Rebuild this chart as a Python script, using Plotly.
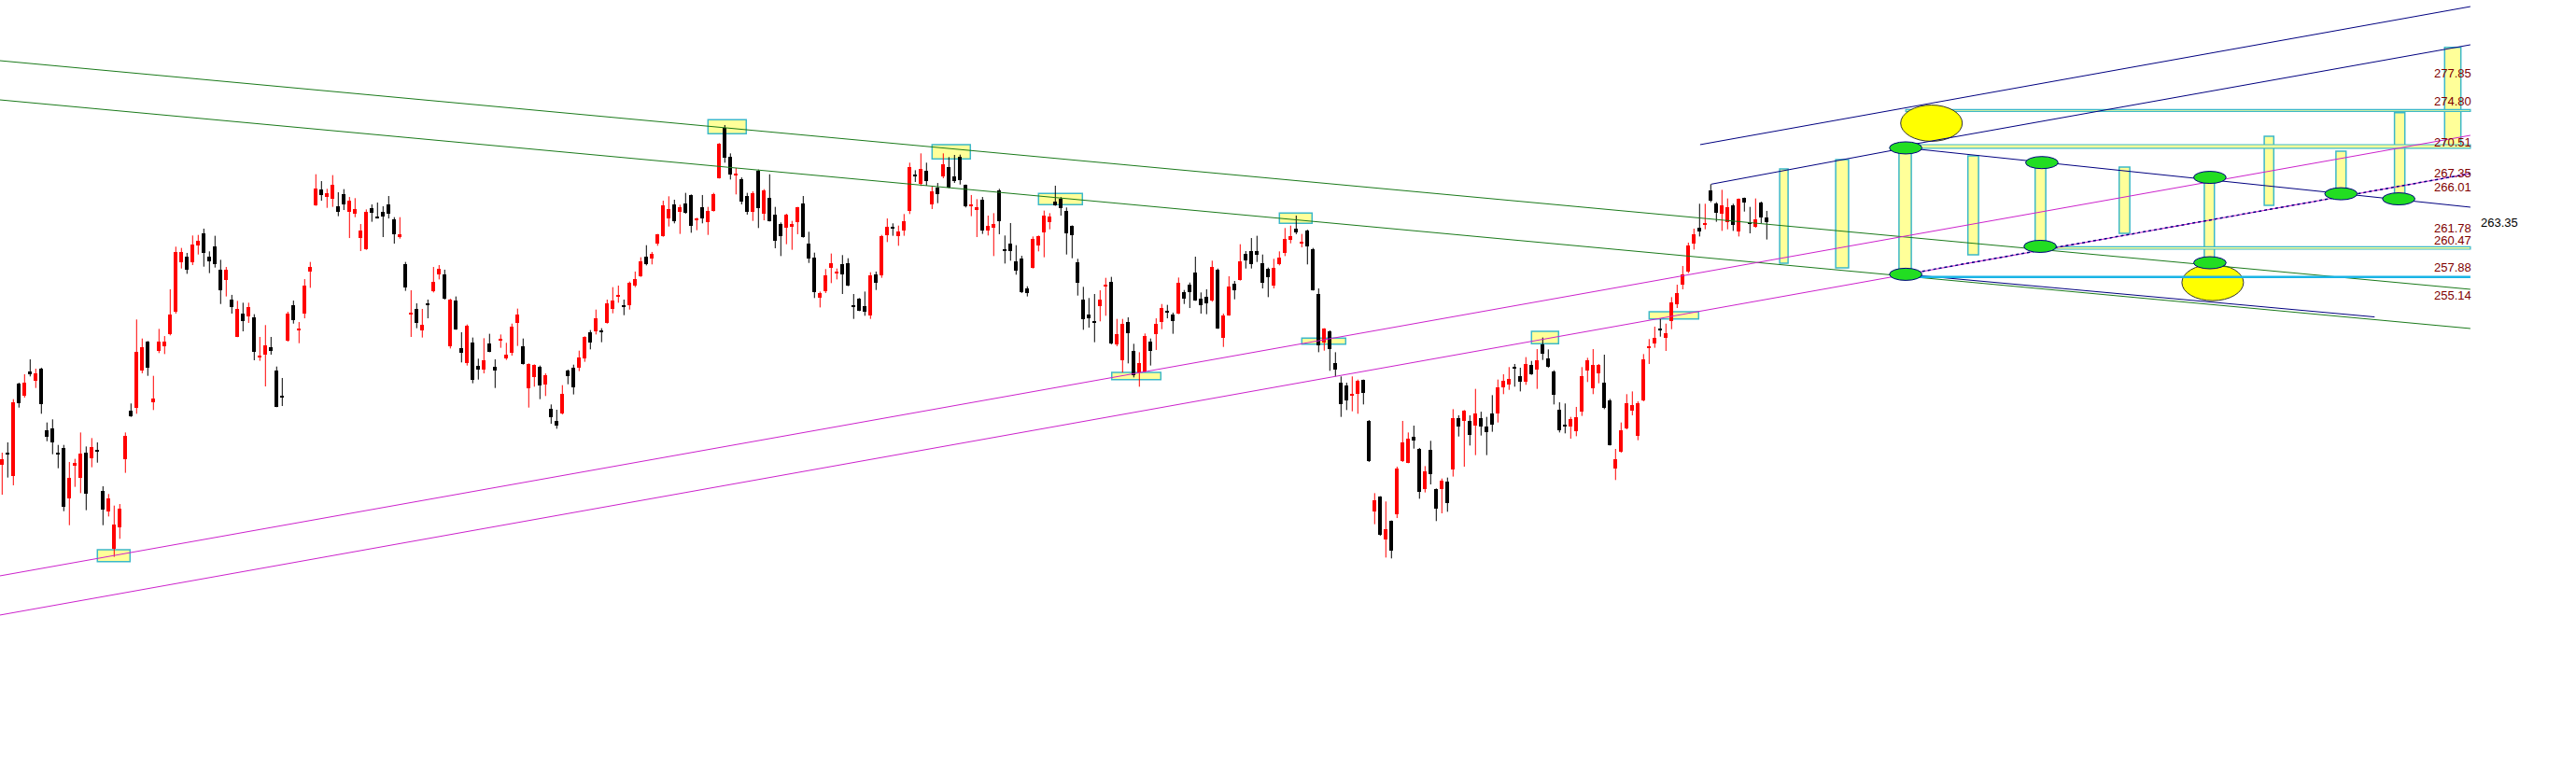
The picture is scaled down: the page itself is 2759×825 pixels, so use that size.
import plotly.graph_objects as go

# ---------------- candle data (index = trading day) ----------------
opens = [238.54,239.81,237.43,246.86,245.62,248.06,247.18,248.38,242.10,242.25,239.81,240.29,235.11,238.44,237.27,239.81,239.27,240.10,235.91,233.84,
229.97,232.19,239.18,244.10,244.41,248.22,251.14,244.98,250.19,250.70,251.87,254.16,259.24,259.81,259.27,260.98,262.19,259.81,260.86,258.48,
257.43,255.43,251.65,254.03,253.71,253.62,249.49,249.81,250.60,248.22,245.59,251.24,254.89,252.38,254.03,258.32,265.08,266.63,265.94,265.75,
264.95,266.16,264.35,264.16,261.71,260.60,264.73,263.90,264.35,265.14,263.62,261.84,259.08,253.97,254.48,252.32,255.02,256.32,258.03,258.00,
250.67,255.30,250.44,248.95,251.05,248.70,248.32,250.98,248.60,251.30,249.43,250.03,253.08,250.67,246.41,247.49,248.60,246.73,244.25,243.05,
243.84,248.22,248.48,248.44,249.40,252.13,252.19,252.25,253.08,254.51,255.68,254.89,254.82,256.89,257.81,259.81,259.65,261.14,261.94,263.68,
265.14,264.35,265.27,266.10,263.56,264.83,263.37,264.51,267.84,272.98,270.03,268.16,267.75,266.00,264.41,268.54,264.16,265.78,264.10,263.14,
262.73,262.83,263.30,265.21,261.14,259.71,255.59,256.32,258.70,258.06,259.05,259.17,254.86,255.52,254.79,253.78,257.97,257.90,262.03,262.83,
261.87,262.51,264.51,268.13,267.27,268.54,265.14,266.86,268.00,268.95,268.00,270.03,267.11,264.98,264.57,265.59,262.51,262.76,266.57,260.57,
261.14,259.33,259.59,256.54,258.70,260.92,262.29,263.37,265.43,265.75,264.48,262.95,259.27,255.43,253.94,253.24,254.79,256.79,257.21,250.83,
249.27,253.14,250.22,248.00,248.13,251.17,251.87,253.14,254.32,253.94,254.00,256.16,256.95,258.16,255.52,255.68,255.37,258.51,251.56,253.84,
257.02,257.43,260.13,260.38,260.38,259.11,258.60,256.86,259.08,260.22,261.56,262.67,261.17,262.51,260.60,256.00,251.08,252.22,248.95,246.95,
246.63,245.71,245.78,247.21,243.05,233.84,235.30,230.98,232.83,233.52,238.95,238.79,241.46,240.19,236.06,240.06,236.06,236.06,236.86,238.06,
243.37,243.05,243.05,242.57,243.30,242.51,243.78,243.78,246.48,246.79,248.54,247.59,247.08,248.76,248.32,250.83,249.40,248.06,244.16,242.64,
242.51,242.03,244.03,248.16,246.41,247.90,246.95,245.11,238.19,239.94,242.25,244.13,241.49,245.14,250.48,250.98,252.48,251.56,253.24,254.95,
256.95,258.29,261.17,262.76,263.14,266.57,265.24,264.19,263.30,265.05,262.35,265.81,263.37,262.89,265.30,263.84]
highs = [239.81,240.86,245.27,246.95,247.81,249.33,248.38,248.48,242.89,243.21,240.60,240.60,238.86,239.18,241.87,240.44,241.30,240.86,236.38,235.59,
234.41,234.57,241.87,244.83,253.40,251.46,251.20,247.65,252.44,251.71,256.48,260.83,260.70,260.19,261.97,262.03,262.67,260.35,261.94,259.49,
258.76,255.91,255.30,255.11,255.11,253.94,251.62,252.83,251.62,248.60,247.43,254.19,255.33,253.14,257.52,259.27,268.22,267.52,266.73,268.13,
266.38,266.70,265.90,265.78,263.14,264.63,265.14,265.33,264.95,266.00,263.84,263.84,259.27,256.38,255.05,254.48,255.43,258.76,258.95,258.48,
255.52,255.75,252.10,252.89,251.56,249.40,251.49,251.94,249.33,251.87,251.02,252.98,254.51,251.46,248.92,248.82,248.70,247.90,244.73,244.19,
246.70,248.29,248.79,250.22,251.68,252.32,254.41,252.51,255.43,256.70,256.86,255.43,257.27,258.29,259.75,260.98,260.29,262.13,265.52,265.97,
265.62,265.11,266.32,266.16,263.78,266.10,264.89,266.32,271.40,273.24,270.35,268.86,267.90,266.32,266.48,268.70,266.70,268.22,264.89,263.30,
264.19,263.46,264.89,266.00,262.35,260.22,256.25,258.54,260.13,258.60,259.97,259.65,256.00,255.59,256.25,258.22,258.29,262.03,263.71,263.21,
262.98,264.16,269.40,268.63,270.35,269.40,266.95,267.33,270.35,269.97,270.19,270.22,267.17,266.10,265.68,265.90,264.00,264.25,266.73,261.97,
263.24,260.98,259.90,256.79,261.87,261.97,264.51,264.25,267.05,265.90,264.83,263.00,259.59,256.73,255.59,256.00,256.38,257.65,257.75,253.46,
253.46,253.62,250.92,250.06,251.97,251.46,253.52,254.98,254.89,254.10,257.68,256.41,257.17,259.81,256.16,256.48,259.40,258.60,254.00,257.81,
257.33,261.08,260.38,261.71,261.94,260.03,258.70,259.59,260.35,262.73,262.98,264.00,262.13,262.57,260.70,256.57,252.51,252.29,250.06,247.59,
246.95,247.59,247.27,247.27,243.14,235.68,235.37,234.83,232.89,238.38,243.05,241.87,242.57,240.29,238.44,241.02,236.16,237.17,237.27,244.25,
243.62,244.16,243.62,246.32,243.99,243.46,245.68,247.27,247.81,248.54,248.86,248.48,249.56,249.17,250.38,251.56,250.35,248.22,244.95,244.83,
243.46,244.48,248.54,249.49,250.38,248.86,249.81,245.30,240.19,242.89,245.78,246.06,245.05,249.87,251.40,252.67,253.46,252.98,255.68,256.95,
258.86,261.24,262.67,265.21,265.21,267.21,265.37,266.63,265.75,265.21,265.75,265.84,264.89,265.75,265.43,264.48]
lows = [235.52,237.27,236.48,244.41,245.43,247.59,246.41,243.78,240.98,239.65,238.22,233.84,232.41,236.32,235.68,233.94,238.32,238.79,232.41,233.30,
229.18,231.02,237.75,243.46,243.78,247.91,247.65,244.16,249.97,249.87,251.78,254.00,258.60,258.06,258.95,260.03,258.79,258.13,258.70,254.98,
255.75,254.00,251.60,252.19,253.05,249.24,249.18,246.57,249.81,244.45,244.57,251.14,252.98,250.98,253.52,256.63,265.00,265.52,264.79,264.89,
263.94,264.57,261.71,263.84,260.38,260.50,263.37,263.70,261.81,263.71,261.14,261.65,256.32,251.62,252.51,251.56,253.52,256.16,257.49,255.43,
250.44,252.35,249.02,248.70,246.89,247.27,247.90,250.06,246.41,250.51,249.27,249.71,250.70,248.80,244.41,246.54,245.27,245.59,242.76,242.25,
243.71,246.79,245.75,248.13,249.08,250.35,251.87,251.08,252.98,254.03,255.11,253.84,254.41,256.70,257.75,258.92,259.02,260.92,261.84,262.89,
263.21,262.13,264.19,262.25,262.51,263.21,262.03,264.41,267.78,269.40,267.68,266.16,265.14,264.10,263.46,262.73,263.52,263.40,260.67,259.87,
261.08,260.51,262.10,261.75,259.17,255.59,254.63,256.10,257.11,257.49,256.00,256.80,253.46,254.25,253.78,253.46,256.41,257.65,261.30,261.94,
260.92,261.94,264.16,267.43,267.02,267.05,264.67,265.27,267.81,266.80,267.33,267.17,264.83,263.94,261.81,262.13,261.97,259.87,262.10,259.11,
259.40,257.97,256.10,255.75,258.60,260.35,259.75,262.60,265.00,264.00,260.03,259.65,255.84,252.35,252.57,251.08,253.21,253.78,250.86,250.67,
248.00,248.92,247.49,246.54,248.00,248.70,250.29,252.41,253.52,251.94,253.94,254.98,254.57,255.30,254.00,253.94,255.21,252.44,250.60,253.78,
255.46,257.37,258.60,258.60,259.27,256.57,255.68,256.57,258.92,259.87,261.17,262.10,260.76,259.02,256.35,250.06,250.22,248.16,247.59,243.46,
244.16,244.03,243.78,244.73,238.86,232.51,231.33,229.11,229.02,233.14,238.86,238.73,240.22,235.11,235.75,236.57,232.83,233.62,233.78,237.37,
241.46,238.38,240.54,239.56,241.56,239.56,241.94,242.89,245.78,246.22,246.54,246.06,246.73,247.75,246.32,249.27,248.48,244.73,241.87,241.78,
241.24,241.49,243.56,247.02,245.78,246.89,244.25,240.54,237.02,239.81,242.19,243.62,241.08,245.05,248.86,250.51,251.65,250.19,252.41,254.57,
256.48,258.13,260.54,261.87,262.60,265.37,263.37,262.44,262.60,262.44,261.87,264.41,262.19,262.76,263.21,261.56]
closes = [239.18,239.68,244.95,244.89,246.95,247.84,247.91,244.73,241.40,240.83,239.68,234.32,237.27,238.76,239.71,235.59,240.35,239.97,234.03,235.11,
232.44,234.10,241.56,243.56,250.13,250.60,248.48,245.37,251.14,251.14,253.94,260.29,260.29,258.48,261.08,261.40,260.22,259.33,259.02,256.41,
258.51,254.64,254.48,253.24,254.67,250.06,249.75,250.76,250.22,244.51,245.46,254.03,253.37,252.51,256.86,258.76,266.73,266.06,266.32,267.17,
264.41,265.11,265.52,264.67,262.48,264.41,264.25,263.78,263.94,264.16,262.13,262.10,256.63,254.10,253.08,252.89,254.89,257.21,258.60,255.52,
255.46,252.41,250.03,252.76,247.27,248.32,249.24,250.13,248.16,251.43,249.81,252.67,253.94,248.86,248.86,248.76,246.70,247.75,243.46,242.60,
245.84,247.65,246.48,249.56,251.62,251.08,253.52,252.13,255.05,255.37,255.90,254.76,257.17,257.52,259.33,259.08,260.13,262.10,265.05,264.67,
263.40,264.89,264.25,262.98,263.75,263.68,264.51,266.22,271.33,269.87,268.16,268.29,265.46,264.41,266.32,264.79,266.57,263.46,261.46,261.94,
264.10,263.14,264.83,261.81,259.65,256.22,256.06,257.90,259.17,258.29,257.97,256.89,254.73,254.32,254.16,257.90,257.11,261.94,262.89,262.70,
262.41,263.46,268.95,268.00,268.76,267.49,266.48,266.22,269.24,266.89,267.52,267.59,264.95,265.11,264.83,262.44,262.98,263.14,263.40,260.44,
260.35,258.38,256.22,256.10,261.62,261.87,264.00,263.94,265.05,264.73,262.19,262.03,257.17,253.46,253.56,253.11,255.43,256.92,250.92,251.87,
252.98,252.03,247.68,248.95,251.71,250.22,252.98,254.57,254.19,253.24,257.11,255.52,256.16,255.37,254.89,255.05,258.76,252.51,253.84,256.79,
256.41,259.33,259.40,259.08,260.03,257.11,257.75,258.70,259.71,261.62,261.94,262.29,261.30,260.86,256.41,250.76,252.44,250.35,248.32,244.73,
245.11,245.84,247.17,245.94,238.95,234.95,231.40,231.97,229.81,238.22,240.86,241.24,241.08,235.78,237.90,237.65,234.10,236.95,234.63,243.37,
242.44,244.10,241.65,243.78,242.51,241.94,242.67,246.48,247.11,247.33,248.41,247.08,248.86,247.84,249.24,249.87,248.54,245.75,242.13,242.51,
243.27,243.43,247.59,249.24,248.76,248.76,244.41,240.60,239.14,242.10,244.86,244.70,244.86,249.33,250.60,251.52,252.35,252.03,255.14,256.10,
257.97,260.98,262.10,262.41,263.27,265.52,264.25,265.05,264.89,263.08,265.68,265.30,263.14,263.62,263.84,263.35]

# ---------------- drawn studies ----------------
# parallel resistance lines (green) and support lines (magenta): [start, end]
green_x = [-0.4, 440.6]
green_a_y = [279.81, 256.48]
green_b_y = [275.81, 252.48]
magenta_x = [-0.4, 440.6]
magenta_a_y = [227.24, 272.19]
magenta_b_y = [223.24, 268.29]

# navy projection lines: (x0, y0, x1, y1)
navy_lines = [
    (303.1, 271.24, 440.6, 285.33),
    (339.8, 271.14, 440.6, 281.43),
    (305.1, 267.21, 339.8, 270.91),
    (339.8, 270.91, 440.6, 264.86),
    (339.8, 258.01, 423.5, 253.66),
]
navy_dotted = (339.8, 258.01, 440.6, 268.29)

# yellow marker boxes at swing points
swing_x0 = [17.0, 126.0, 166.0, 185.0, 198.07, 228.0, 232.0, 273.0, 294.0]
swing_x1 = [22.83, 132.83, 172.83, 192.83, 206.83, 233.83, 239.83, 277.83, 302.83]
swing_lo = [228.70, 272.35, 269.78, 265.11, 247.27, 263.21, 250.89, 250.92, 253.46]
swing_hi = [229.90, 273.78, 271.24, 266.26, 248.00, 264.26, 251.50, 252.19, 254.19]

# yellow vertical time bars on the right
zone_x0 = [317.3, 327.3, 338.6, 350.9, 362.9, 377.9, 393.1, 403.8, 416.6, 427.05, 436.0]
zone_x1 = [318.8, 329.6, 340.8, 352.8, 364.8, 379.8, 394.9, 405.5, 418.4, 428.9, 438.9]
zone_lo = [259.14, 258.67, 258.38, 260.00, 261.05, 262.19, 259.52, 265.05, 266.57, 266.07, 271.08]
zone_hi = [268.76, 269.71, 270.76, 270.10, 269.05, 268.95, 267.90, 272.10, 270.57, 274.50, 281.17]

# thin horizontal level bands (x0, x1, lo, hi)
level_bands = [
    (339.8, 440.6, 274.64, 274.83),
    (339.8, 440.6, 270.86, 271.24),
    (363.8, 440.6, 260.57, 260.83),
]
thick_level = (339.8, 440.6, 257.74)

# green pivot ellipses (center x, center y)
pivot_x = [339.8, 364.1, 394.1, 417.5, 427.8, 339.8, 363.8, 394.1]
pivot_y = [270.91, 269.41, 267.90, 266.23, 265.71, 258.01, 260.86, 259.19]
# large yellow ellipses (center x, center y)
target_x = [344.4, 394.6]
target_y = [273.43, 257.17]

# price labels on the right
label_text = ["277.85", "274.80", "270.51", "267.35", "266.01", "261.78", "260.47", "257.88", "255.14"]
label_y = [278.57, 275.71, 271.52, 268.38, 266.95, 262.76, 261.43, 258.67, 255.90]
label_x = 433.8
last_text = "263.35"
last_pos = (442.1, 263.33)

RED = "#FF0000"
BLACK = "#000000"
GREEN = "#1A7A1A"
MAGENTA = "#CC22CC"
NAVY = "#000080"
CYAN = "#3CB8C8"
YELLOW = "#FFFF99"

fig = go.Figure()

n = len(opens)
idx = list(range(n))
for col, cond in ((RED, lambda o, c: c >= o), (BLACK, lambda o, c: c < o)):
    xs, base, hgt, wx, wy = [], [], [], [], []
    for i in idx:
        o, h, l, c = opens[i], highs[i], lows[i], closes[i]
        if not cond(o, c):
            continue
        xs.append(i)
        base.append(min(o, c))
        hgt.append(max(abs(c - o), 0.13))
        wx += [i, i, None]
        wy += [l, h, None]
    fig.add_trace(go.Scatter(x=wx, y=wy, mode="lines", line=dict(color=col, width=1),
                             hoverinfo="skip"))
    fig.add_trace(go.Bar(x=xs, y=hgt, base=base, width=0.72,
                         marker=dict(color=col, line=dict(width=0))))

# trend lines
for ys in (green_a_y, green_b_y):
    fig.add_trace(go.Scatter(x=green_x, y=ys, mode="lines", line=dict(color=GREEN, width=1)))
for ys in (magenta_a_y, magenta_b_y):
    fig.add_trace(go.Scatter(x=magenta_x, y=ys, mode="lines", line=dict(color=MAGENTA, width=1)))
for (x0, y0, x1, y1) in navy_lines:
    fig.add_trace(go.Scatter(x=[x0, x1], y=[y0, y1], mode="lines", line=dict(color=NAVY, width=1)))
x0, y0, x1, y1 = navy_dotted
fig.add_trace(go.Scatter(x=[x0, x1], y=[y0, y1], mode="lines",
                         line=dict(color=NAVY, width=1.5, dash="dot")))
x0, x1, yv = thick_level
fig.add_trace(go.Scatter(x=[x0, x1], y=[yv, yv], mode="lines", line=dict(color="#19B4E6", width=2.5)))

shapes = []
for a, b, lo, hi in zip(swing_x0, swing_x1, swing_lo, swing_hi):
    shapes.append(dict(type="rect", xref="x", yref="y", x0=a, x1=b, y0=lo, y1=hi,
                       fillcolor=YELLOW, line=dict(color=CYAN, width=1.5), layer="below"))
for a, b, lo, hi in zip(zone_x0, zone_x1, zone_lo, zone_hi):
    shapes.append(dict(type="rect", xref="x", yref="y", x0=a, x1=b, y0=lo, y1=hi,
                       fillcolor=YELLOW, line=dict(color=CYAN, width=1.5), layer="below"))
for a, b, lo, hi in level_bands:
    shapes.append(dict(type="rect", xref="x", yref="y", x0=a, x1=b, y0=lo, y1=hi,
                       fillcolor=YELLOW, line=dict(color=CYAN, width=1.2), layer="below"))
for cx, cy in zip(target_x, target_y):
    shapes.append(dict(type="circle", xref="x", yref="y", x0=cx - 5.5, x1=cx + 5.5,
                       y0=cy - 1.85, y1=cy + 1.85, fillcolor="#FFFF00",
                       line=dict(color="#333333", width=1), layer="below"))
for cx, cy in zip(pivot_x, pivot_y):
    shapes.append(dict(type="circle", xref="x", yref="y", x0=cx - 2.9, x1=cx + 2.9,
                       y0=cy - 0.62, y1=cy + 0.62, fillcolor="#22DD22",
                       line=dict(color=NAVY, width=1), layer="above"))

annotations = []
for t, yv in zip(label_text, label_y):
    annotations.append(dict(x=label_x, y=yv, xref="x", yref="y", text=t, showarrow=False,
                            xanchor="left", yanchor="middle",
                            font=dict(family="Liberation Sans, Arial", size=13, color="#800000")))
annotations.append(dict(x=last_pos[0], y=last_pos[1], xref="x", yref="y", text=last_text,
                        showarrow=False, xanchor="left", yanchor="middle",
                        font=dict(family="Liberation Sans, Arial", size=13, color="#000000")))

fig.update_layout(
    width=2759, height=825,
    margin=dict(l=0, r=0, t=0, b=0),
    paper_bgcolor="white", plot_bgcolor="white",
    showlegend=False, barmode="overlay", bargap=0,
    xaxis=dict(range=[-0.383, 459.45], visible=False, fixedrange=True),
    yaxis=dict(range=[207.43, 286.0], visible=False, fixedrange=True),
    shapes=shapes, annotations=annotations,
)
fig.write_html("out.html", config={"displayModeBar": False},
               post_script="document.body.style.margin='0';document.body.style.overflow='hidden';")
